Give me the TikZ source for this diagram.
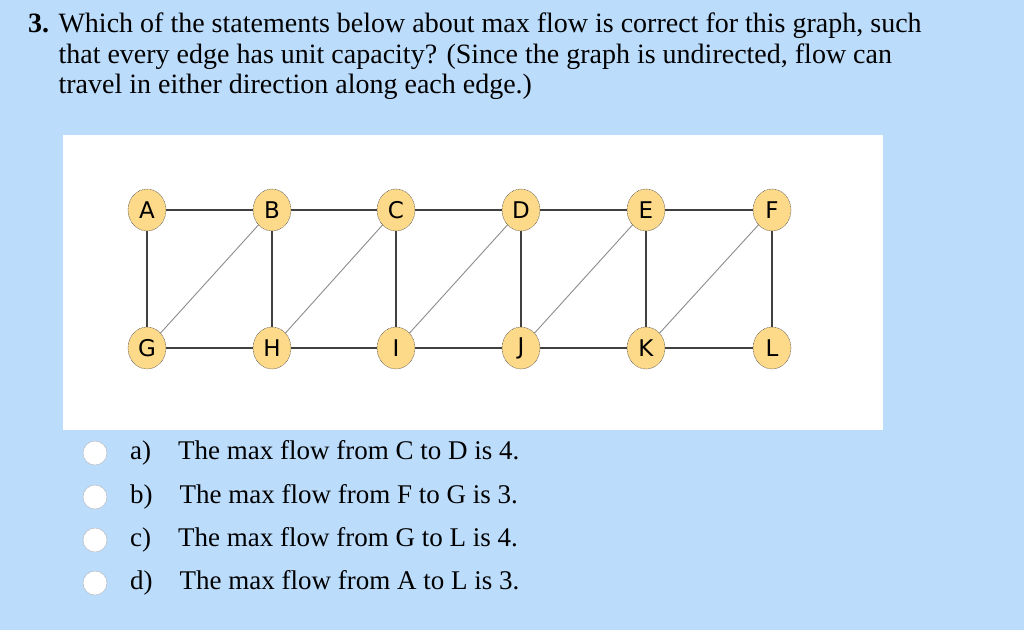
\documentclass[tikz,border=0pt]{standalone}
\usepackage{fontspec}
\setmainfont{Liberation Serif}
\newfontfamily\vfont{DejaVu Sans}
\usetikzlibrary{shapes.geometric}
\definecolor{bg}{HTML}{BCDCFC}
\definecolor{nodefill}{HTML}{FDD98A}
\begin{document}
\begin{tikzpicture}[x=1pt,y=-1pt,
  vert/.style={ellipse,draw=black!70,dashed,dash pattern=on 1pt off 0.6pt,fill=nodefill,minimum width=38,minimum height=42,inner sep=0,font=\vfont\fontsize{23}{23}\selectfont},
  edge/.style={draw=black!75,line width=1.1},
  diag/.style={draw=black!45,line width=0.9},
  radio/.style={circle,draw=black!30,fill=white,minimum size=24,inner sep=0},
  opt/.style={anchor=west,font=\fontsize{27}{27}\selectfont,inner sep=0}]
\useasboundingbox (0,0) rectangle (1024,630);
\fill[bg] (0,0) rectangle (1024,630);
\fill[white] (63,135) rectangle (883,430);
\node[anchor=north west,align=left,inner sep=0,font=\fontsize{28}{30.5}\selectfont] (q) at (28,13)
 {\textbf{3.} Which of the statements below about max flow is correct for this graph, such\\
 \hphantom{\textbf{3.} }that every edge has unit capacity? (Since the graph is undirected, flow can\\
 \hphantom{\textbf{3.} }travel in either direction along each edge.)};
\foreach \n/\x in {A/147,B/272,C/396,D/521,E/646,F/772}{\coordinate (\n) at (\x,210);}
\foreach \n/\x in {G/147,H/272,I/396,J/521,K/646,L/772}{\coordinate (\n) at (\x,348);}
\foreach \a/\b in {A/B,B/C,C/D,D/E,E/F,G/H,H/I,I/J,J/K,K/L,A/G,B/H,C/I,D/J,E/K,F/L}{\draw[edge] (\a)--(\b);}
\foreach \a/\b in {B/G,C/H,D/I,E/J,F/K}{\draw[diag] (\a)--(\b);}
\foreach \n in {A,B,C,D,E,F,G,H,I,J,K,L}{\node[vert] (v\n) at (\n) {\n};}
\foreach \i/\y/\t in {1/453/{a)\quad The max flow from C to D is 4.},2/497/{b)\quad The max flow from F to G is 3.},3/540/{c)\quad The max flow from G to L is 4.},4/583/{d)\quad The max flow from A to L is 3.}}{
  \node[radio] (r\i) at (95,\y) {};
  \node[opt] (o\i) at (130,\y) {\t};}
\end{tikzpicture}
\end{document}
